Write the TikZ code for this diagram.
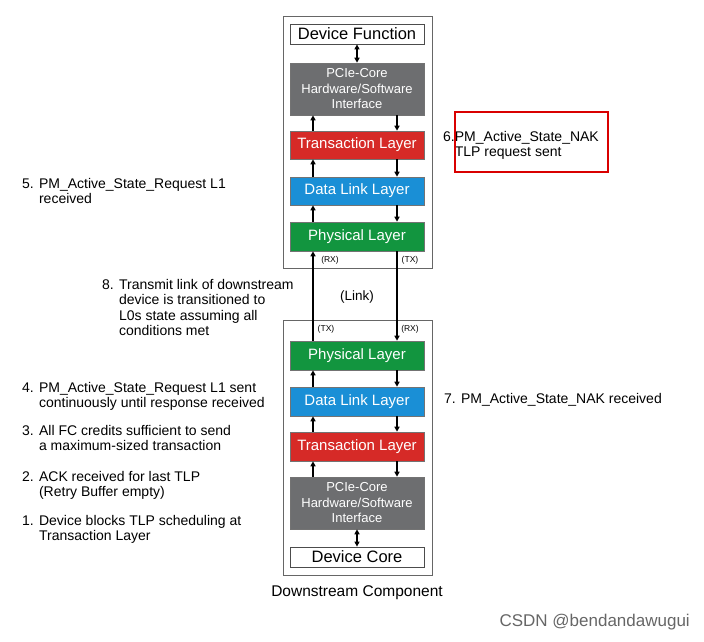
\documentclass[tikz,border=0pt]{standalone}
\usepackage{fontspec}
\setmainfont{Liberation Sans}
\usetikzlibrary{arrows.meta}
\definecolor{cgray}{HTML}{6D6E70}
\definecolor{cred}{HTML}{D62A27}
\definecolor{cblue}{HTML}{1A8FD6}
\definecolor{cgreen}{HTML}{12953F}
\begin{document}
\begin{tikzpicture}[x=1pt,y=-1pt,
  layer/.style={draw=black!55,line width=0.6pt,minimum width=134pt,text=white,font=\fontsize{15}{17}\selectfont,inner sep=0pt},
  endbox/.style={draw=black!70,line width=0.8pt,minimum width=134pt,minimum height=20pt,font=\fontsize{16.5}{18}\selectfont,inner sep=0pt},
  outer/.style={draw=black!60,line width=0.8pt},
  lbl/.style={font=\fontsize{14}{15.5}\selectfont,align=left,anchor=north west,inner sep=0pt},
  small/.style={font=\fontsize{8.5}{9}\selectfont,inner sep=0pt},
  ar/.style={-{Triangle[length=5pt,width=5pt]},line width=1.4pt},
  lar/.style={-{Triangle[length=5pt,width=5pt]},line width=1.6pt},
  dar/.style={{Triangle[length=5pt,width=5pt]}-{Triangle[length=5pt,width=5pt]},line width=1.4pt}]
\useasboundingbox (0,0) rectangle (704,641);
% top component
\node[outer,minimum width=149pt,minimum height=252pt,inner sep=0pt] (top) at (357.5,142) {};
\node[endbox] (df) at (357,34) {Device Function};
\node[layer,fill=cgray,minimum height=52pt,align=center,font=\fontsize{13}{15.5}\selectfont] (pc1) at (357,89) {PCIe-Core\\Hardware/Software\\Interface};
\node[layer,fill=cred,minimum height=28pt] (tl1) at (357,145) {Transaction Layer};
\node[layer,fill=cblue,minimum height=28pt] (dl1) at (357,191) {Data Link Layer};
\node[layer,fill=cgreen,minimum height=29pt] (ph1) at (357,236.5) {Physical Layer};
\draw[dar] (df.south) -- (pc1.north);
\foreach \a/\b in {pc1/tl1,tl1/dl1,dl1/ph1}{
  \draw[ar] (\b.north -| 313,0) -- (\a.south -| 313,0);
  \draw[ar] (\a.south -| 397,0) -- (\b.north -| 397,0);
}
\node[small] (rx1) at (330,260) {(RX)};
\node[small] (tx1) at (410,260) {(TX)};
% bottom component
\node[outer,minimum width=149pt,minimum height=255pt,inner sep=0pt] (bot) at (357.5,447.5) {};
\node[layer,fill=cgreen,minimum height=29pt] (ph2) at (357,355.5) {Physical Layer};
\node[layer,fill=cblue,minimum height=29pt] (dl2) at (357,401.5) {Data Link Layer};
\node[layer,fill=cred,minimum height=29pt] (tl2) at (357,446.5) {Transaction Layer};
\node[layer,fill=cgray,minimum height=52pt,align=center,font=\fontsize{13}{15.5}\selectfont] (pc2) at (357,503) {PCIe-Core\\Hardware/Software\\Interface};
\node[endbox] (dc) at (357,557) {Device Core};
\draw[dar] (pc2.south) -- (dc.north);
\foreach \a/\b in {ph2/dl2,dl2/tl2,tl2/pc2}{
  \draw[ar] (\b.north -| 313,0) -- (\a.south -| 313,0);
  \draw[ar] (\a.south -| 397,0) -- (\b.north -| 397,0);
}
\node[small] (tx2) at (326,329) {(TX)};
\node[small] (rx2) at (410,329) {(RX)};
% link
\draw[lar] (ph2.north -| 313,0) -- (ph1.south -| 313,0);
\draw[lar] (ph1.south -| 397,0) -- (ph2.north -| 397,0);
\node[font=\fontsize{13.5}{15}\selectfont] (link) at (357,297) {(Link)};
\node[font=\fontsize{15.5}{17}\selectfont] (ds) at (357,593) {Downstream Component};
% labels
\node[lbl] (l5) at (22,178) {5. PM\_Active\_State\_Request L1\\\phantom{5. }received};
\node[lbl] (l8) at (102,279) {8. Transmit link of downstream\\\phantom{8. }device is transitioned to\\\phantom{8. }L0s state assuming all\\\phantom{8. }conditions met};
\node[lbl] (l4) at (22,382) {4. PM\_Active\_State\_Request L1 sent\\\phantom{4. }continuously until response received};
\node[lbl] (l3) at (22,425) {3. All FC credits sufficient to send\\\phantom{3. }a maximum-sized transaction};
\node[lbl] (l2) at (22,471) {2. ACK received for last TLP\\\phantom{2. }(Retry Buffer empty)};
\node[lbl] (l1) at (22,515) {1. Device blocks TLP scheduling at\\\phantom{1. }Transaction Layer};
\node[lbl] (l6) at (443,131) {6.PM\_Active\_State\_NAK\\\phantom{6.}TLP request sent};
\node[lbl] (l7) at (444,393) {7. PM\_Active\_State\_NAK received};
\draw[red!85!black,line width=1.2pt] (455,112) rectangle (608,172);
\node[font=\fontsize{17}{19}\selectfont,text=black!60,anchor=south east,inner sep=0pt] (wm) at (690,630) {CSDN @bendandawugui};
\end{tikzpicture}
\end{document}
